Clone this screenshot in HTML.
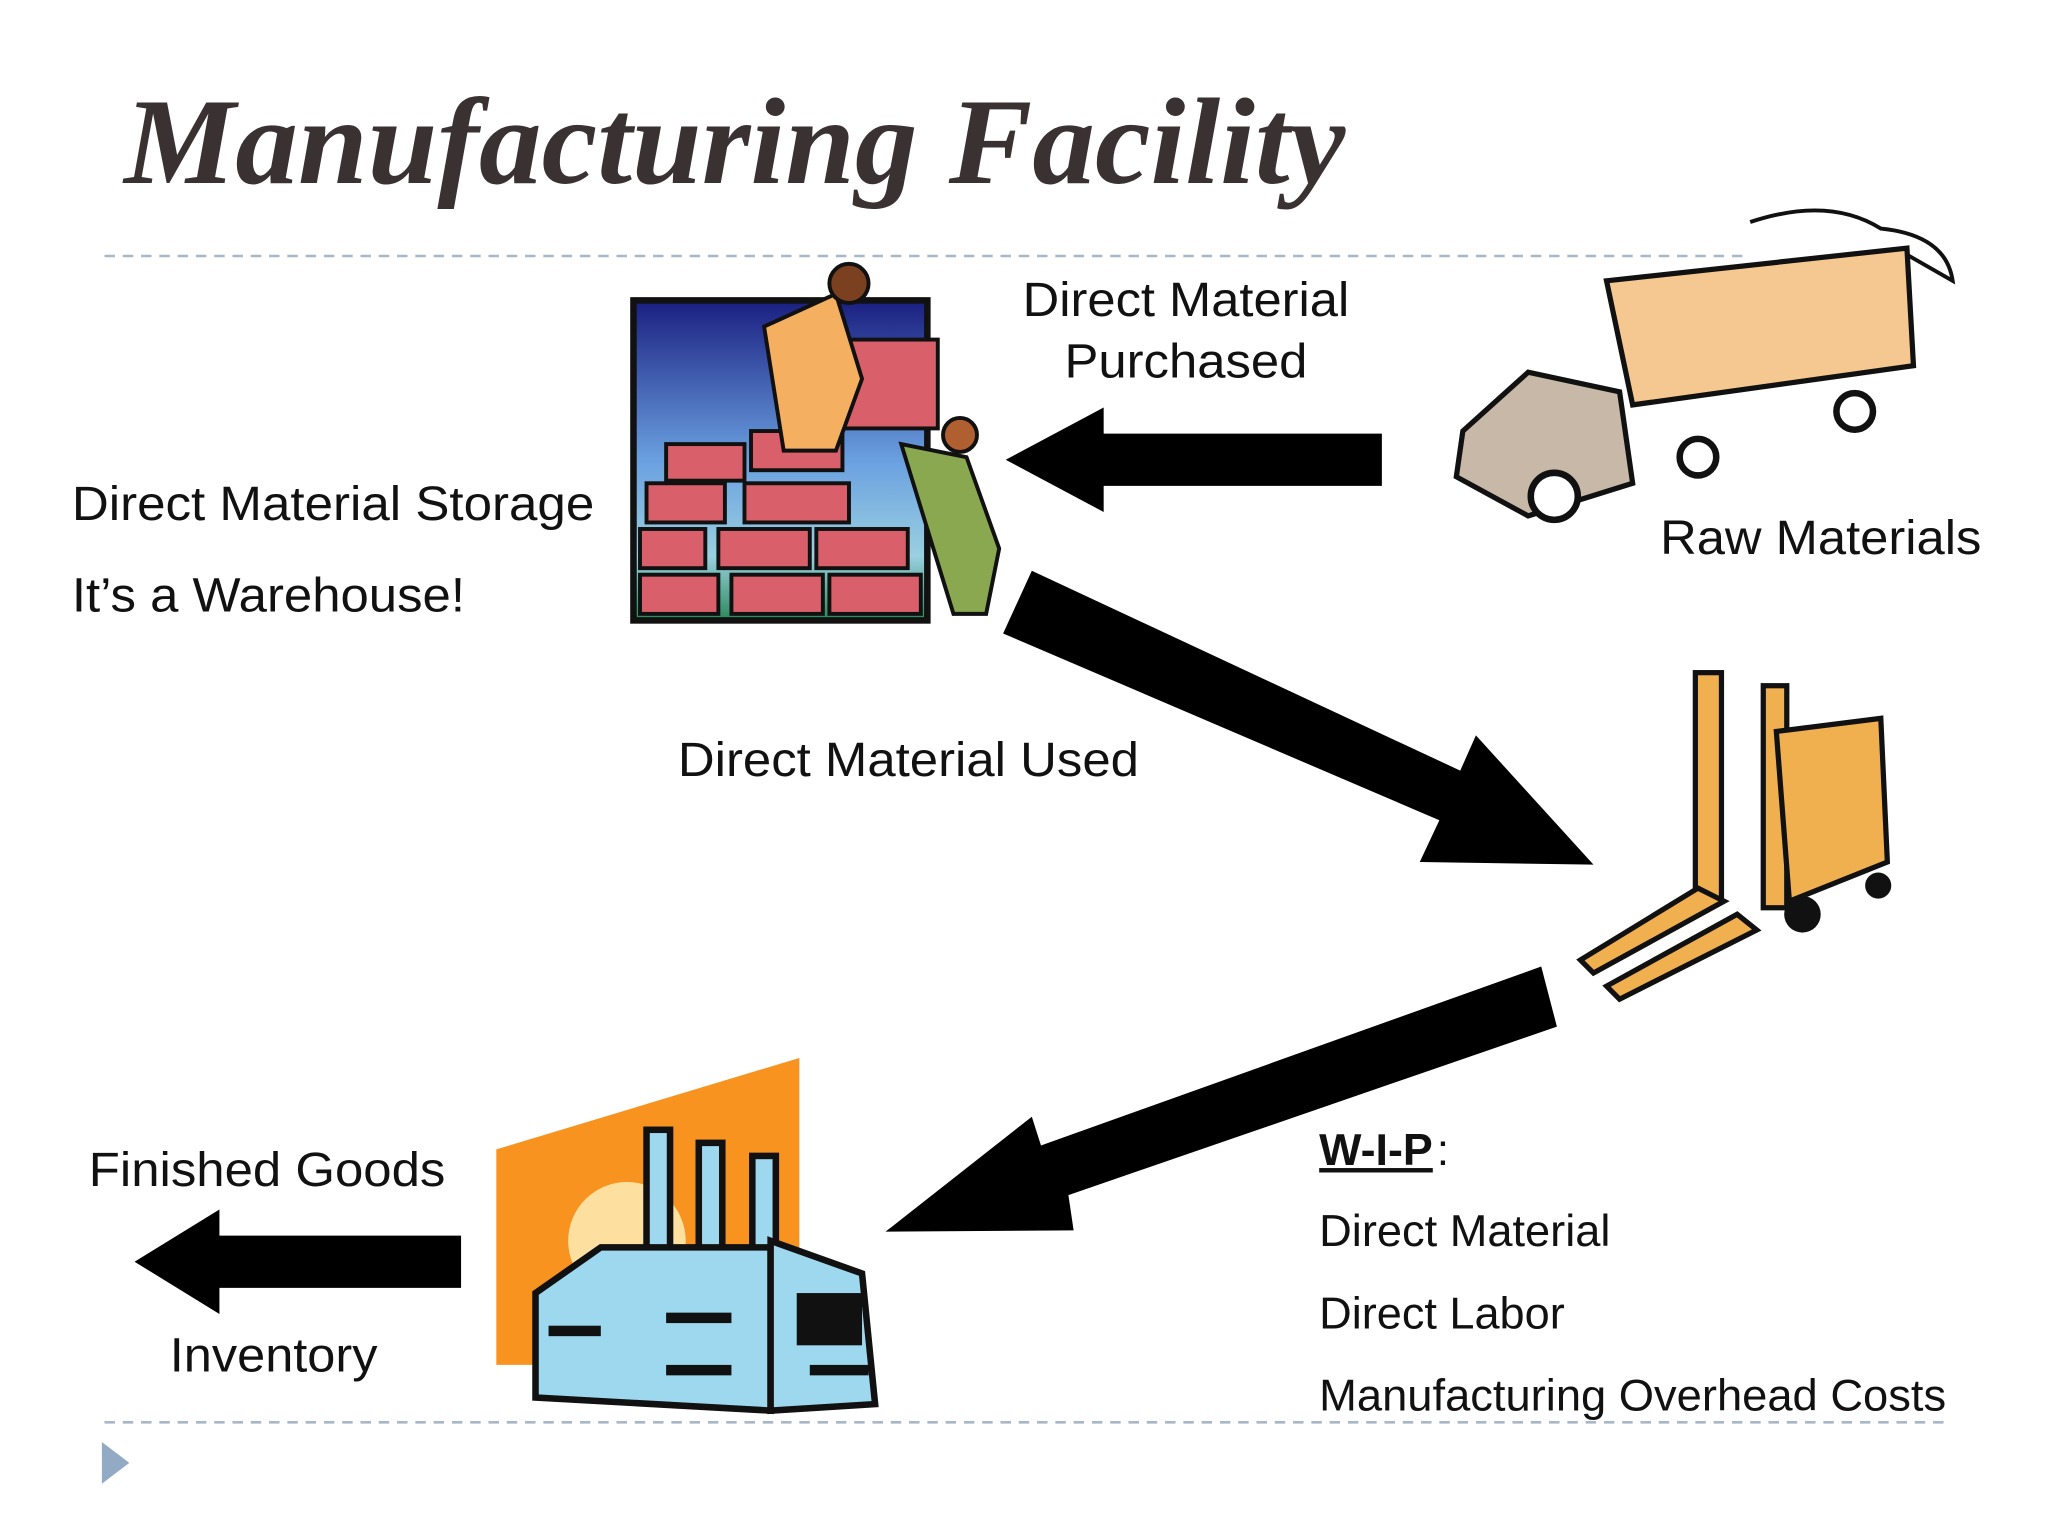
<!DOCTYPE html>
<html><head><meta charset="utf-8"><style>
html,body{margin:0;padding:0;background:#fff;}
svg{display:block}
text{font-family:"Liberation Sans",sans-serif;fill:#111;}
</style></head><body>
<svg width="2048" height="1536" viewBox="0 0 1568 1176" xmlns="http://www.w3.org/2000/svg">
<defs>
<linearGradient id="sky" x1="0" y1="0" x2="0" y2="1">
<stop offset="0" stop-color="#1a1f80"/><stop offset="0.5" stop-color="#6aa0e0"/><stop offset="0.8" stop-color="#9ad0e0"/><stop offset="1" stop-color="#2a8a5a"/></linearGradient>
</defs>
<rect width="1568" height="1176" fill="#fff"/>
<text x="95" y="140" textLength="935" lengthAdjust="spacingAndGlyphs" style="font-family:'Liberation Serif',serif;font-style:italic;font-weight:bold;font-size:94px;fill:#3a3232">Manufacturing Facility</text>
<line x1="80" y1="196" x2="1340" y2="196" stroke="#a8b8c8" stroke-width="2" stroke-dasharray="8,6"/>
<line x1="80" y1="1089" x2="1490" y2="1089" stroke="#a8b8c8" stroke-width="2" stroke-dasharray="8,6"/>
<polygon points="78,1104 99,1120 78,1136" fill="#93aac4"/>

<!-- warehouse clipart -->
<rect x="485" y="230" width="225" height="245" fill="url(#sky)" stroke="#111" stroke-width="5"/>
<g fill="#d9606a" stroke="#111" stroke-width="3">
<rect x="490" y="440" width="60" height="30"/><rect x="560" y="440" width="70" height="30"/><rect x="635" y="440" width="70" height="30"/>
<rect x="490" y="405" width="50" height="30"/><rect x="550" y="405" width="70" height="30"/><rect x="625" y="405" width="70" height="30"/>
<rect x="495" y="370" width="60" height="30"/><rect x="570" y="370" width="80" height="30"/>
<rect x="510" y="340" width="60" height="28"/><rect x="575" y="330" width="70" height="30"/>
<rect x="640" y="260" width="78" height="68"/>
</g>
<path d="M585,250 L640,225 L660,290 L640,345 L600,345 Z" fill="#f4b060" stroke="#111" stroke-width="3"/>
<circle cx="650" cy="217" r="15" fill="#7a4020" stroke="#111" stroke-width="3"/>
<path d="M690,340 L740,350 L765,420 L755,470 L730,470 Z" fill="#8aa850" stroke="#111" stroke-width="3"/>
<circle cx="735" cy="333" r="13" fill="#b06030" stroke="#111" stroke-width="3"/>

<!-- truck clipart -->
<path d="M1230,215 L1460,190 L1465,280 L1250,310 Z" fill="#f4c890" stroke="#111" stroke-width="4"/>
<path d="M1120,330 L1170,285 L1240,300 L1250,370 L1170,395 L1115,365 Z" fill="#c8b8a8" stroke="#111" stroke-width="4"/>
<circle cx="1190" cy="380" r="18" fill="#fff" stroke="#111" stroke-width="5"/>
<circle cx="1300" cy="350" r="14" fill="#fff" stroke="#111" stroke-width="5"/>
<circle cx="1420" cy="315" r="14" fill="#fff" stroke="#111" stroke-width="5"/>
<path d="M1340,170 Q1400,150 1440,175 Q1490,180 1495,215 L1460,195" fill="none" stroke="#111" stroke-width="3"/>

<!-- forklift -->
<rect x="1298" y="515" width="20" height="175" fill="#f0b050" stroke="#111" stroke-width="4"/>
<rect x="1350" y="525" width="18" height="170" fill="#f0b050" stroke="#111" stroke-width="4"/>
<path d="M1360,560 L1440,550 L1445,660 L1370,690 Z" fill="#f0b050" stroke="#111" stroke-width="4"/>
<circle cx="1380" cy="700" r="14" fill="#111"/><circle cx="1438" cy="678" r="10" fill="#111"/>
<polygon points="1210,735 1300,680 1320,690 1220,745" fill="#f0b050" stroke="#111" stroke-width="4"/>
<polygon points="1230,755 1330,700 1345,712 1240,765" fill="#f0b050" stroke="#111" stroke-width="4"/>

<!-- factory -->
<polygon points="380,880 612,810 612,1045 380,1045" fill="#f7931e"/>
<circle cx="480" cy="950" r="45" fill="#fde0a0"/>
<g fill="#9dd8ef" stroke="#111" stroke-width="5">
<rect x="495" y="865" width="18" height="110"/><rect x="535" y="875" width="18" height="100"/><rect x="576" y="885" width="18" height="90"/>
<polygon points="410,990 460,955 590,955 590,1080 410,1070"/>
<polygon points="590,950 660,975 670,1075 590,1080"/>
</g>
<g fill="#111"><rect x="420" y="1015" width="40" height="8"/><rect x="510" y="1005" width="50" height="8"/><rect x="510" y="1045" width="50" height="8"/><rect x="610" y="990" width="50" height="40"/><rect x="620" y="1045" width="45" height="8"/></g>

<!-- arrows -->
<polygon points="1058,332 845,332 845,312 770,352 845,392 845,372 1058,372" fill="#000"/>
<polygon points="790,437 1118,590 1130,563 1220,662 1087,660 1102,628 768,485" fill="#000"/>
<polygon points="1180,740 1192,786 818,915 822,942 678,943 790,855 797,877" fill="#000"/>
<polygon points="353,946 168,946 168,926 103,966 168,1006 168,986 353,986" fill="#000"/>

<!-- text -->
<g font-size="37" lengthAdjust="spacingAndGlyphs">
<text x="783" y="242" textLength="250" lengthAdjust="spacingAndGlyphs">Direct Material</text>
<text x="815" y="289" textLength="186" lengthAdjust="spacingAndGlyphs">Purchased</text>
<text x="55" y="398" textLength="400" lengthAdjust="spacingAndGlyphs">Direct Material Storage</text>
<text x="55" y="468" textLength="301" lengthAdjust="spacingAndGlyphs">It’s a Warehouse!</text>
<text x="1271" y="424" textLength="246" lengthAdjust="spacingAndGlyphs">Raw Materials</text>
<text x="519" y="594" textLength="353" lengthAdjust="spacingAndGlyphs">Direct Material Used</text>
<text x="68" y="908" textLength="273" lengthAdjust="spacingAndGlyphs">Finished Goods</text>
<text x="130" y="1050" textLength="159" lengthAdjust="spacingAndGlyphs">Inventory</text>
</g>
<g font-size="34">
<text x="1010" y="892" font-weight="bold" text-decoration="underline" textLength="87" lengthAdjust="spacingAndGlyphs">W-I-P</text>
<text x="1100" y="892"> :</text>
<text x="1010" y="954" textLength="223" lengthAdjust="spacingAndGlyphs">Direct Material</text>
<text x="1010" y="1017" textLength="188" lengthAdjust="spacingAndGlyphs">Direct Labor</text>
<text x="1010" y="1080" textLength="480" lengthAdjust="spacingAndGlyphs">Manufacturing Overhead Costs</text>
</g>
</svg>
</body></html>
